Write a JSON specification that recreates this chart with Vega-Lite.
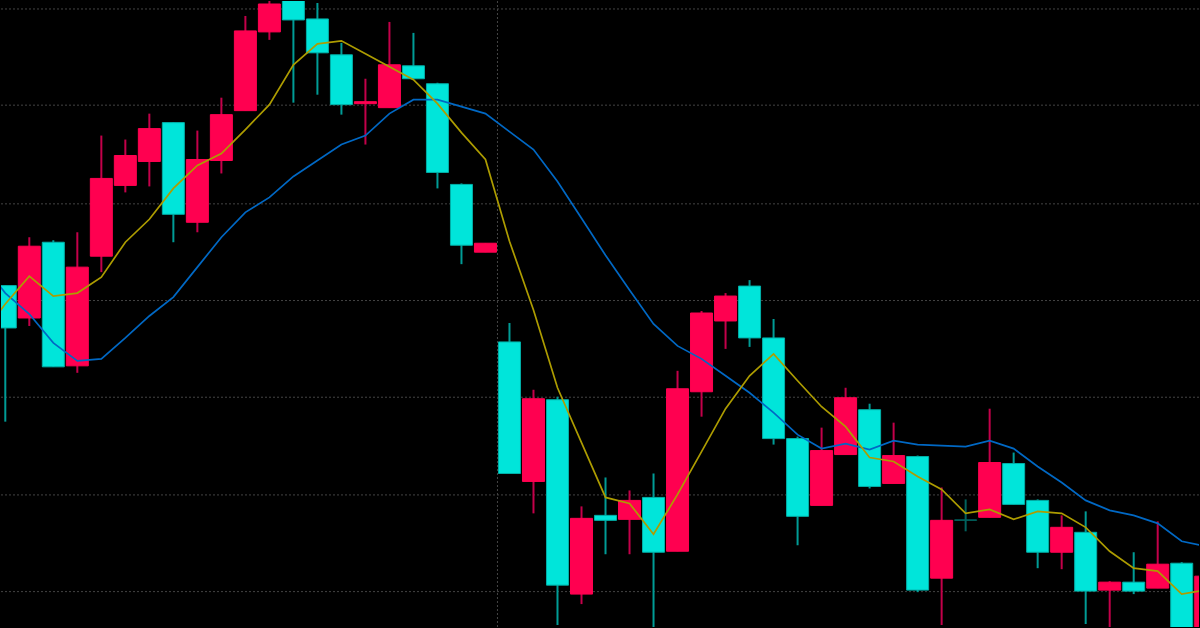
{"$schema":"https://vega.github.io/schema/vega-lite/v6.json","width":1200,"height":628,"autosize":{"type":"fit","contains":"padding"},"padding":0,"background":"#000000","config":{"view":{"stroke":null},"axis":{"domain":false,"grid":false},"scale":{"continuousPadding":0}},
"datasets":{
"hgrid":[{"price":620},{"price":523.5},{"price":424.5},{"price":327.5},{"price":230.5},{"price":132.5},{"price":35.5}],
"vgrid":[{"i":20.5}],
"candles":[
{"i":0,"high":343,"top":342.5,"bottom":300,"low":206,"kind":"down"},
{"i":1,"high":391,"top":382,"bottom":310,"low":302,"kind":"up"},
{"i":2,"high":388,"top":386,"bottom":261,"low":261,"kind":"down"},
{"i":3,"high":396,"top":361,"bottom":262,"low":255,"kind":"up"},
{"i":4,"high":493,"top":450,"bottom":372,"low":356,"kind":"up"},
{"i":5,"high":489,"top":473,"bottom":443,"low":436,"kind":"up"},
{"i":6,"high":515,"top":500,"bottom":467,"low":442,"kind":"up"},
{"i":7,"high":506.5,"top":506,"bottom":414,"low":386,"kind":"down"},
{"i":8,"high":498,"top":469,"bottom":406,"low":396,"kind":"up"},
{"i":9,"high":531,"top":514,"bottom":468,"low":455,"kind":"up"},
{"i":10,"high":613,"top":598,"bottom":518,"low":518,"kind":"up"},
{"i":11,"high":633,"top":625,"bottom":597,"low":589,"kind":"up"},
{"i":12,"high":638,"top":638,"bottom":609,"low":526,"kind":"down"},
{"i":13,"high":626,"top":610,"bottom":576,"low":534,"kind":"down"},
{"i":14,"high":586,"top":574,"bottom":524,"low":514,"kind":"down"},
{"i":15,"high":550,"top":527,"bottom":525,"low":484,"kind":"up"},
{"i":16,"high":607,"top":564,"bottom":521,"low":521,"kind":"up"},
{"i":17,"high":596,"top":563,"bottom":550,"low":550,"kind":"down"},
{"i":18,"high":546,"top":545,"bottom":456,"low":440,"kind":"down"},
{"i":19,"high":445,"top":444,"bottom":383,"low":364,"kind":"down"},
{"i":20,"high":385,"top":385,"bottom":376,"low":376,"kind":"up"},
{"i":21,"high":305,"top":286,"bottom":154,"low":154,"kind":"down"},
{"i":22,"high":238,"top":229,"bottom":146,"low":114,"kind":"up"},
{"i":23,"high":231,"top":228,"bottom":42,"low":2,"kind":"down"},
{"i":24,"high":121,"top":109,"bottom":33,"low":23,"kind":"up"},
{"i":25,"high":150,"top":112,"bottom":107,"low":73,"kind":"down"},
{"i":26,"high":137,"top":127,"bottom":108,"low":73,"kind":"up"},
{"i":27,"high":154,"top":130,"bottom":75,"low":-12,"kind":"down"},
{"i":28,"high":257,"top":239,"bottom":76,"low":76,"kind":"up"},
{"i":29,"high":317,"top":315,"bottom":236,"low":211,"kind":"up"},
{"i":30,"high":335,"top":332,"bottom":307,"low":279,"kind":"up"},
{"i":31,"high":348,"top":342,"bottom":290,"low":281,"kind":"down"},
{"i":32,"high":309,"top":290,"bottom":189,"low":183,"kind":"down"},
{"i":33,"high":191,"top":189,"bottom":111,"low":82,"kind":"down"},
{"i":34,"high":200,"top":177,"bottom":122,"low":122,"kind":"up"},
{"i":35,"high":240,"top":230,"bottom":173,"low":173,"kind":"up"},
{"i":36,"high":224,"top":218,"bottom":141,"low":139,"kind":"down"},
{"i":37,"high":205,"top":172,"bottom":144,"low":144,"kind":"up"},
{"i":38,"high":172,"top":171,"bottom":37,"low":35,"kind":"down"},
{"i":39,"high":140,"top":107,"bottom":49,"low":2,"kind":"up"},
{"i":40,"high":128,"top":107.5,"bottom":107,"low":96,"kind":"doji"},
{"i":41,"high":219,"top":165,"bottom":110,"low":110,"kind":"up"},
{"i":42,"high":175,"top":164,"bottom":123,"low":123,"kind":"down"},
{"i":43,"high":128,"top":127,"bottom":75,"low":59,"kind":"down"},
{"i":44,"high":112,"top":100,"bottom":75,"low":58,"kind":"up"},
{"i":45,"high":116,"top":95,"bottom":36,"low":3,"kind":"down"},
{"i":46,"high":46,"top":45,"bottom":37,"low":-12,"kind":"up"},
{"i":47,"high":75,"top":45,"bottom":36,"low":33,"kind":"down"},
{"i":48,"high":106,"top":63,"bottom":39,"low":39,"kind":"up"},
{"i":49,"high":65,"top":64,"bottom":-12,"low":-12,"kind":"down"},
{"i":50,"high":51,"top":51,"bottom":-12,"low":-12,"kind":"up"}
],
"averages":[
{"i":-1,"fast":293,"slow":366},{"i":0,"fast":324,"slow":335},{"i":1,"fast":352,"slow":314},{"i":2,"fast":332,"slow":285},{"i":3,"fast":335,"slow":267},{"i":4,"fast":351,"slow":269},{"i":5,"fast":386,"slow":290},{"i":6,"fast":409,"slow":312},{"i":7,"fast":440,"slow":331},{"i":8,"fast":463,"slow":361},{"i":9,"fast":475,"slow":391},{"i":10,"fast":499,"slow":416},{"i":11,"fast":524,"slow":431},{"i":12,"fast":564,"slow":452},{"i":13,"fast":585,"slow":468},{"i":14,"fast":588,"slow":484},{"i":15,"fast":575,"slow":493},{"i":16,"fast":562,"slow":515},{"i":17,"fast":549,"slow":529},{"i":18,"fast":525,"slow":529},{"i":19,"fast":496,"slow":522},{"i":20,"fast":469,"slow":515},{"i":21,"fast":387,"slow":497},{"i":22,"fast":318,"slow":479},{"i":23,"fast":240,"slow":447},{"i":24,"fast":185,"slow":410},{"i":25,"fast":130,"slow":373},{"i":26,"fast":124,"slow":338},{"i":27,"fast":93,"slow":304},{"i":28,"fast":133,"slow":282},{"i":29,"fast":176,"slow":269},{"i":30,"fast":219,"slow":252},{"i":31,"fast":252,"slow":235},{"i":32,"fast":274,"slow":215},{"i":33,"fast":247,"slow":193},{"i":34,"fast":221,"slow":179},{"i":35,"fast":201,"slow":184},{"i":36,"fast":170,"slow":178},{"i":37,"fast":166,"slow":187},{"i":38,"fast":151,"slow":183},{"i":39,"fast":138,"slow":182},{"i":40,"fast":114,"slow":181},{"i":41,"fast":118,"slow":187},{"i":42,"fast":108,"slow":179},{"i":43,"fast":116,"slow":161},{"i":44,"fast":114,"slow":145},{"i":45,"fast":100,"slow":127},{"i":46,"fast":76,"slow":117},{"i":47,"fast":59,"slow":112},{"i":48,"fast":56,"slow":104},{"i":49,"fast":33,"slow":86},{"i":50,"fast":37,"slow":81}
]},
"data":{"name":"candles"},
"resolve":{"scale":{"color":"independent","stroke":"independent"}},
"layer":[
{"data":{"name":"hgrid"},"mark":{"type":"rule","color":"#444444","strokeWidth":1,"strokeDash":[2,2]},"encoding":{"y":{"field":"price","type":"quantitative","scale":{"domain":[0,628],"nice":false,"zero":false},"axis":null}}},
{"data":{"name":"vgrid"},"mark":{"type":"rule","color":"#444444","strokeWidth":1,"strokeDash":[2,2]},"encoding":{"x":{"field":"i","type":"quantitative","scale":{"domain":[-0.179,49.72],"nice":false,"zero":false,"padding":0},"axis":null}}},
{"mark":{"type":"rule","strokeWidth":2,"clip":true},"encoding":{
"x":{"field":"i","type":"quantitative","scale":{"domain":[-0.179,49.72],"nice":false,"zero":false,"padding":0},"axis":null},
"y":{"field":"low","type":"quantitative","scale":{"domain":[0,628],"nice":false,"zero":false},"axis":null},
"y2":{"field":"high"},
"color":{"field":"kind","type":"nominal","legend":null,"scale":{"domain":["up","down","doji"],"range":["#c4004a","#009c96","#00625e"]}}}},
{"mark":{"type":"bar","size":22,"orient":"vertical","strokeWidth":1,"clip":true},"encoding":{
"x":{"field":"i","type":"quantitative","scale":{"domain":[-0.179,49.72],"nice":false,"zero":false,"padding":0},"axis":null},
"y":{"field":"bottom","type":"quantitative","scale":{"domain":[0,628],"nice":false,"zero":false},"axis":null},
"y2":{"field":"top"},
"color":{"field":"kind","type":"nominal","legend":null,"scale":{"domain":["up","down","doji"],"range":["#ff0050","#00e5da","#00625e"]}},
"stroke":{"field":"kind","type":"nominal","legend":null,"scale":{"domain":["up","down","doji"],"range":["#ff0050","#00b0a8","#00625e"]}}}},
{"data":{"name":"averages"},"mark":{"type":"line","color":"#0068c4","strokeWidth":1.7,"clip":true},"encoding":{
"x":{"field":"i","type":"quantitative","scale":{"domain":[-0.179,49.72],"nice":false,"zero":false,"padding":0},"axis":null},
"y":{"field":"slow","type":"quantitative","scale":{"domain":[0,628],"nice":false,"zero":false},"axis":null}}},
{"data":{"name":"averages"},"mark":{"type":"line","color":"#ad9c00","strokeWidth":1.7,"clip":true},"encoding":{
"x":{"field":"i","type":"quantitative","scale":{"domain":[-0.179,49.72],"nice":false,"zero":false,"padding":0},"axis":null},
"y":{"field":"fast","type":"quantitative","scale":{"domain":[0,628],"nice":false,"zero":false},"axis":null}}}
]}
